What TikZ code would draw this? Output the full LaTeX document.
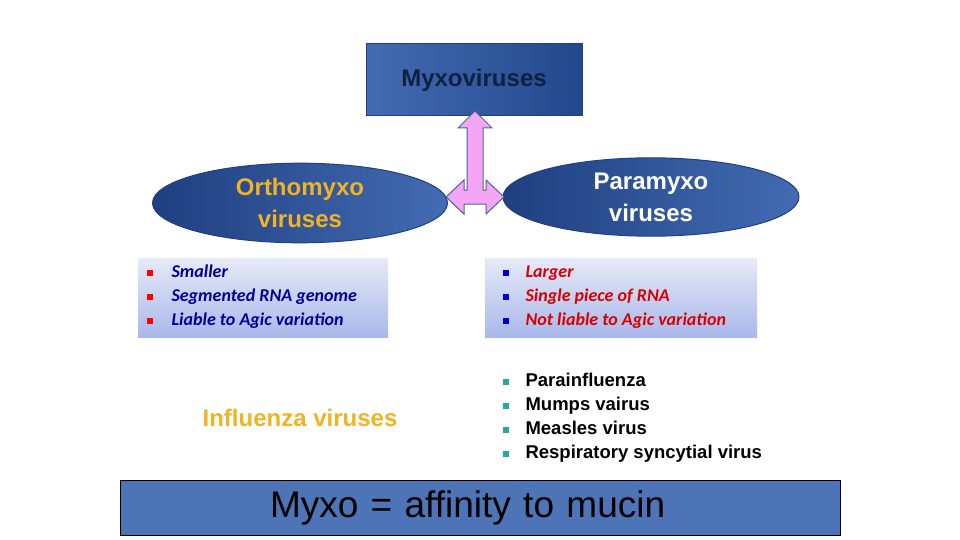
\documentclass[tikz,border=0pt]{standalone}
\usepackage{fontspec}
\setmainfont{Liberation Sans}
\newfontfamily\carl{Carlito}
\usetikzlibrary{shapes.geometric}
\definecolor{ebl}{HTML}{2E5BAA}
\definecolor{ebd}{HTML}{1F3F80}
\definecolor{org}{HTML}{F0B323}
\definecolor{tl}{HTML}{2AA3A8}
\definecolor{lv1}{HTML}{E6E9F7}
\definecolor{lv2}{HTML}{A9B8EA}
\definecolor{apink}{HTML}{F4A6F4}
\tikzset{
 ell/.style={ellipse,draw=ebd,line width=1pt,left color=ebd,right color=ebl!90!white,shading angle=90,minimum width=295pt,minimum height=76pt,align=center,font=\fontsize{24}{32}\selectfont\bfseries},
 bbox/.style={rectangle,top color=lv1,bottom color=lv2,minimum width=250pt,minimum height=79pt,anchor=north west,inner sep=0},
 itm/.style={anchor=west,font=\carl\bfseries\itshape\fontsize{18}{18}\selectfont,text height=12pt,text depth=4pt},
 sq/.style={fill=#1,minimum size=6pt,inner sep=0},
 lst/.style={anchor=west,font=\bfseries\fontsize{18.5}{20}\selectfont,text height=13pt,text depth=4pt},
}
\begin{document}
\begin{tikzpicture}[x=1pt,y=-1pt]
\useasboundingbox (0,0) rectangle (960,540);
\node[draw=ebd,line width=1pt,left color=ebl!90!white,right color=ebd!70!ebl,minimum width=216pt,minimum height=72pt,font=\fontsize{24}{26}\selectfont\bfseries,text=ebd!50!black] (top) at (474,80) {Myxoviruses};
\node[ell,text=org] (orth) at (300,203) {Orthomyxo\\viruses};
\node[ell,text=white,minimum width=296pt,minimum height=72pt] (para) at (651,197) {Paramyxo\\viruses};
% three-headed arrow
\draw[fill=apink,draw=ebd!80,line width=1pt]
 (475,111) -- (492,128) -- (483,128) -- (483,190) -- (486,190) -- (486,180) -- (504,197)
 -- (486,214) -- (486,204) -- (464,204) -- (464,214) -- (446,197) -- (464,180) -- (464,190)
 -- (467,190) -- (467,128) -- (458,128) -- cycle;
% left box
\node[bbox] (lb) at (138,258) {};
\foreach \t/\y [count=\i] in {Smaller/273,Segmented RNA genome/297,Liable to Agic variation/321}{
 \node[sq=red] (ls\i) at (150,\y) {};
 \node[itm,text=blue!60!black] (lt\i) at (168,\y) {\t};
}
\node[bbox,minimum width=272pt] (rb) at (485,258) {};
\foreach \t/\y [count=\i] in {Larger/273,Single piece of RNA/297,Not liable to Agic variation/321}{
 \node[sq=blue!80!black] (rs\i) at (506,\y) {};
 \node[itm,text=red!85!black] (rt\i) at (522,\y) {\t};
}
\node[text=org,font=\fontsize{24}{26}\selectfont\bfseries] (inf) at (300,418) {Influenza viruses};
\foreach \t/\y [count=\i] in {Parainfluenza/382,Mumps vairus/406,Measles virus/430,Respiratory syncytial virus/454}{
 \node[sq=tl] (ps\i) at (506,\y) {};
 \node[lst] (pt\i) at (522,\y) {\t};
}
\node[draw=black,line width=1pt,fill=ebl!85!white,minimum width=720pt,minimum height=55pt,font=\fontsize{37}{40}\selectfont,text width=700pt,align=left] (bot) at (480,508) {\hspace{140pt}Myxo = affinity to mucin};
\end{tikzpicture}
\end{document}
